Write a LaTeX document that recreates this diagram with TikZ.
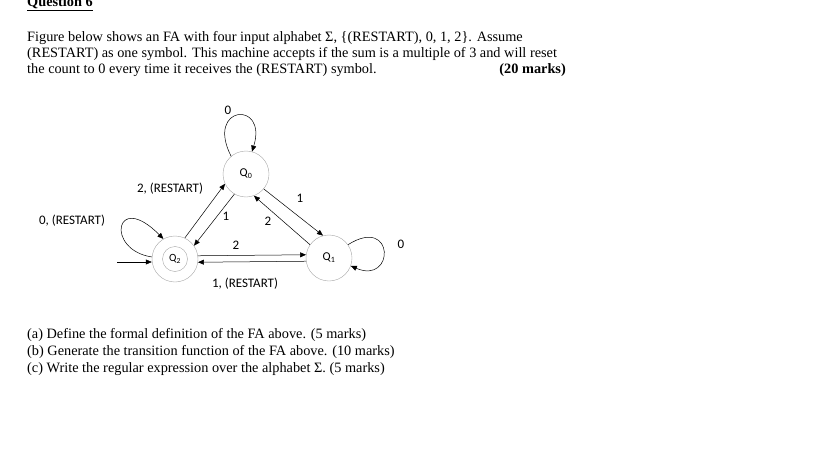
\documentclass[tikz,border=0pt]{standalone}
\usepackage{fontspec}
\setmainfont{Liberation Serif}
\newfontfamily\calfnt{Carlito}
\usetikzlibrary{arrows.meta}
\begin{document}
\begin{tikzpicture}[x=1pt,y=-1pt,
  txt/.style={anchor=west,inner sep=0pt,font=\fontsize{14.3}{16}\selectfont},
  st/.style={circle,draw=gray!70,minimum size=46pt,inner sep=0pt,font=\calfnt\fontsize{12}{14}\selectfont},
  lbl/.style={font=\calfnt\fontsize{13}{15}\selectfont,inner sep=1pt},
  ed/.style={-{Triangle[length=6pt,width=5pt]},line width=0.5pt}]
\useasboundingbox (0,0) rectangle (819,460);
\node[txt,font=\bfseries\fontsize{14.3}{16}\selectfont] (title) at (27,4) {\underline{Question 6}};
\node[txt] (l1) at (27,38) {Figure below shows an FA with four input alphabet Σ, \{(RESTART), 0, 1, 2\}. Assume};
\node[txt] (l2) at (27,54) {(RESTART) as one symbol. This machine accepts if the sum is a multiple of 3 and will reset};
\node[txt] (l3) at (27,70) {the count to 0 every time it receives the (RESTART) symbol.};
\node[inner sep=0pt,anchor=east,font=\bfseries\fontsize{14.3}{16}\selectfont] (marks) at (566,70) {(20 marks)};
\node[txt] (qa) at (27,335) {(a) Define the formal definition of the FA above. (5 marks)};
\node[txt] (qb) at (27,352) {(b) Generate the transition function of the FA above. (10 marks)};
\node[txt] (qc) at (27,369) {(c) Write the regular expression over the alphabet Σ. (5 marks)};

\node[st] (q0) at (246,174) {Q\textsubscript{0}};
\node[st] (q1) at (329,258) {Q\textsubscript{1}};
\node[st] (q2) at (175,259) {};
\node[circle,draw=gray!70,minimum size=25pt,inner sep=0pt,font=\calfnt\fontsize{11}{13}\selectfont] (q2i) at (q2) {Q\textsubscript{2}};
\coordinate (s) at (117,262);
\draw[ed] (s) -- (q2.west|-s);

\draw[ed] (q0.-40) -- (q1.105);
\node[lbl] (l01) at (300,198) {1};
\draw[ed] (q1.145) -- (q0.-70);
\node[lbl] (l10) at (268,221) {2};
\draw[ed] (q2.65) -- (q0.-155);
\node[lbl] (l20) at (170,189) {2, (RESTART)};
\draw[ed] (q0.-120) -- (q2.35);
\node[lbl] (l02) at (226,216) {1};
\draw[ed] (q2.8) -- (q1.172);
\node[lbl] (l21) at (236,245) {2};
\draw[ed] (q1.-172) -- (q2.-8);
\node[lbl] (l12) at (245,284) {1, (RESTART)};
\draw[ed] (q0.130) .. controls (205,105) and (268,100) .. (q0.75);
\node[lbl] (lq0) at (228,110) {0};
\draw[ed] (q2.175) .. controls (105,250) and (115,190) .. (q2.120);
\node[lbl] (lq2) at (72,221) {0, (RESTART)};
\draw[ed] (q1.35) .. controls (395,215) and (395,285) .. (q1.-20);
\node[lbl] (lq1) at (401,244) {0};
\end{tikzpicture}
\end{document}
